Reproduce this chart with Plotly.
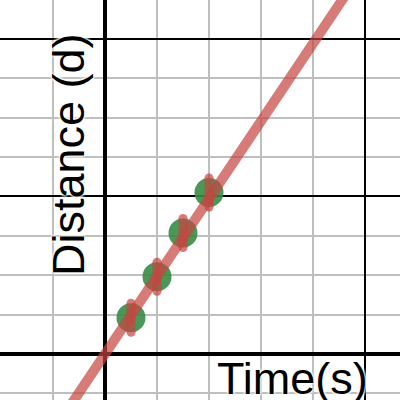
import plotly.graph_objects as go

# measured points: time (s) vs distance (d)
time_s = [0.5, 1.0, 1.5, 2.0]
distance_d = [0.92, 1.96, 3.07, 4.1]
error_d = [0.37, 0.37, 0.37, 0.37]

# model line endpoints
line_x = [-1.0, 5.0]
line_y = [-1.97, 9.85]

RED = "#c74440"
GREEN = "#388c46"

# vertical error segments, separated by None
err_x, err_y = [], []
for x, y, e in zip(time_s, distance_d, error_d):
    err_x += [x, x, None]
    err_y += [y - e, y + e, None]

fig = go.Figure()
fig.add_trace(go.Scatter(
    x=time_s, y=distance_d, mode="markers",
    marker=dict(size=29, color=GREEN), opacity=0.9, hoverinfo="skip",
))
fig.add_trace(go.Scatter(
    x=err_x, y=err_y, mode="lines+markers",
    line=dict(color=RED, width=9), marker=dict(size=9, color=RED),
    opacity=0.7, hoverinfo="skip",
))
fig.add_trace(go.Scatter(
    x=line_x, y=line_y, mode="lines",
    line=dict(color=RED, width=10), opacity=0.7, hoverinfo="skip",
))

halo = "0 0 3px white, 0 0 3px white, 0 0 3px white, 0 0 3px white"
label_font = dict(family="Arial, Liberation Sans", size=45, color="black", shadow=halo)

fig.add_annotation(text="Time(s)", xref="paper", yref="paper", x=0.73, y=0.055,
                   xanchor="center", yanchor="middle", showarrow=False, font=label_font)
fig.add_annotation(text="Distance (d)", xref="paper", yref="paper", x=0.1725, y=0.6125,
                   xanchor="center", yanchor="middle", textangle=-90, showarrow=False,
                   font=label_font)

axis_common = dict(
    showticklabels=False, ticks="", showline=False,
    zeroline=True, zerolinecolor="black", zerolinewidth=4,
    showgrid=True, gridcolor="black", gridwidth=2,
    fixedrange=True,
)
fig.update_xaxes(range=[-2.019, 5.673], dtick=5, tick0=0,
                 minor=dict(dtick=1, tick0=0, showgrid=True, gridcolor="#bfbfbf", gridwidth=2),
                 **axis_common)
fig.update_yaxes(range=[-1.1675, 8.985], dtick=4, tick0=0,
                 minor=dict(dtick=1, tick0=0, showgrid=True, gridcolor="#bfbfbf", gridwidth=2),
                 **axis_common)

fig.update_layout(
    width=400, height=400, autosize=False,
    margin=dict(l=0, r=0, t=0, b=0),
    plot_bgcolor="white", paper_bgcolor="white",
    showlegend=False,
)

fig.write_html("out.html", config={"displayModeBar": False},
               post_script="document.body.style.margin='0';document.body.style.overflow='hidden';")
